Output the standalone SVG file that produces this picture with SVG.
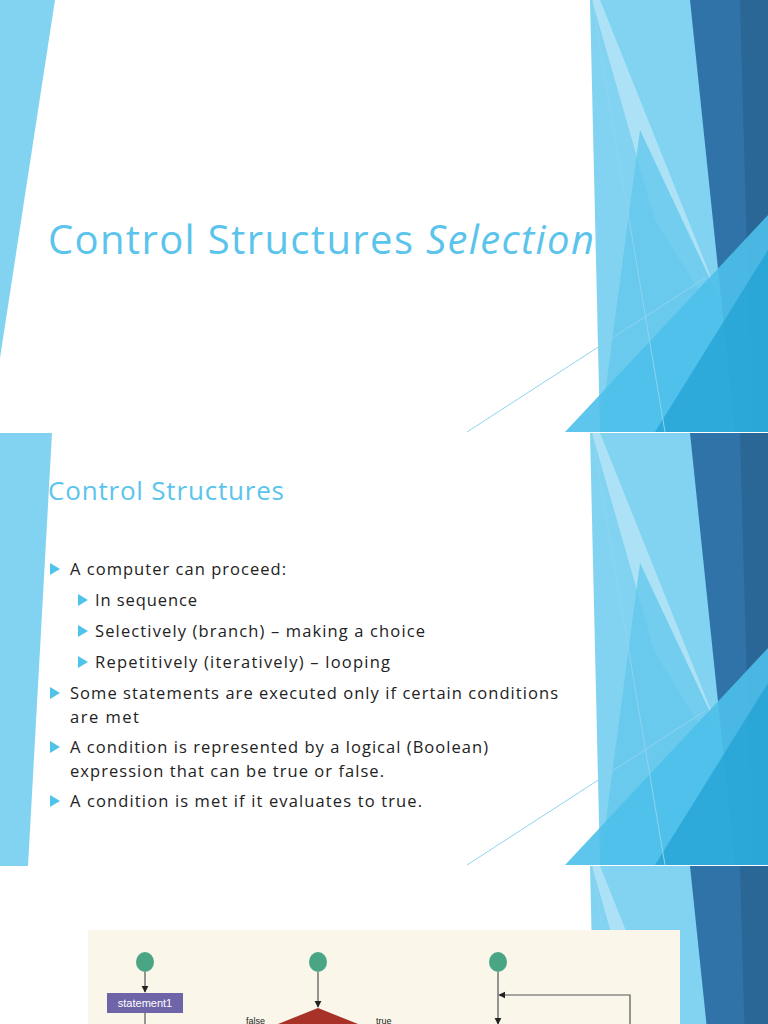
<svg xmlns="http://www.w3.org/2000/svg" xmlns:xlink="http://www.w3.org/1999/xlink" width="768" height="1024" viewBox="0 0 768 1024">
<style>
.t{font-family:"Open Sans",Lato,sans-serif;fill:#5bc4ec}
.b{font-family:"Open Sans",Lato,sans-serif;fill:#222;font-size:16.5px}
.bul{fill:#4fc3ea}
.ln{stroke:#555;stroke-width:1.2;fill:none}
</style>
<defs>
<marker id="ah" viewBox="0 0 10 10" refX="9" refY="5" markerWidth="6" markerHeight="6" orient="auto"><path d="M0,0L10,5L0,10z" fill="#222"/></marker>
<g id="deco">
<polygon points="590,0 692,0 740,432 600,432" fill="#82d3f1"/>
<polygon points="592,0 600,0 720,300 705,300 655,220" fill="#ffffff" opacity="0.35"/>
<polygon points="640,130 720,300 740,432 600,432" fill="#63c8ee" opacity="0.8"/>
<polygon points="690,0 768,0 768,432 735,432" fill="#2f73a8"/>
<polygon points="740,0 768,0 768,432 752,432" fill="#2a6797"/>
<polygon points="565,432 768,215 768,432" fill="#4cc0ea" opacity="0.9"/>
<polygon points="655,432 768,250 768,432" fill="#1f9fd3" opacity="0.7"/>
<line x1="467" y1="432" x2="705" y2="278" stroke="#8fd3ef" stroke-width="1"/>
<line x1="592" y1="0" x2="665" y2="432" stroke="#8fd3ef" stroke-width="1"/>
</g>
</defs>
<rect width="768" height="1024" fill="#ffffff"/>
<g id="slide1">
<polygon points="0,0 55,0 0,358" fill="#82d3f1"/>
<use xlink:href="#deco"/>
<text class="t" x="48" y="254" font-size="40" textLength="546" lengthAdjust="spacing">Control Structures <tspan font-style="italic">Selection</tspan></text>
</g>
<g id="slide2">
<polygon points="0,433 52,433 28,866 0,866" fill="#82d3f1"/>
<use xlink:href="#deco" y="433"/>
<text class="t" x="48" y="500" font-size="26" textLength="236" lengthAdjust="spacing">Control Structures</text>
<g class="bul">
<polygon points="50,563 60,569 50,575"/><polygon points="78,594 88,600 78,606"/><polygon points="78,625 88,631 78,637"/><polygon points="78,656 88,662 78,668"/><polygon points="50,687 60,693 50,699"/><polygon points="50,741 60,747 50,753"/><polygon points="50,795 60,801 50,807"/>
</g>
<text class="b" x="70" y="575" textLength="216">A computer can proceed:</text>
<text class="b" x="95" y="606" textLength="102">In sequence</text>
<text class="b" x="95" y="637" textLength="330">Selectively (branch) – making a choice</text>
<text class="b" x="95" y="668" textLength="295">Repetitively (iteratively) – looping</text>
<text class="b" x="70" y="699" textLength="488">Some statements are executed only if certain conditions</text>
<text class="b" x="70" y="723" textLength="69">are met</text>
<text class="b" x="70" y="753" textLength="418">A condition is represented by a logical (Boolean)</text>
<text class="b" x="70" y="777" textLength="314">expression that can be true or false.</text>
<text class="b" x="70" y="807" textLength="352">A condition is met if it evaluates to true.</text>
</g>
<g id="slide3">
<use xlink:href="#deco" y="866"/>
<rect x="88" y="930" width="592" height="94" fill="#faf6ea"/>
<g id="c1"><ellipse cx="145" cy="962" rx="9" ry="10" fill="#4aa585"/></g>
<g id="c2"><ellipse cx="318" cy="962" rx="9" ry="10" fill="#4aa585"/></g>
<g id="c3"><ellipse cx="498" cy="962" rx="9" ry="10" fill="#4aa585"/></g>
<g id="s1"><rect x="107" y="993" width="76" height="20" fill="#6e64a8"/><text x="145" y="1007" font-family="Liberation Sans Narrow,Liberation Sans,sans-serif" font-size="11" fill="#fff" text-anchor="middle">statement1</text></g>
<g id="d1"><polygon points="318,1008 358,1024 278,1024" fill="#a83228"/></g>
<text x="246" y="1024" font-family="Liberation Sans,sans-serif" font-size="9" fill="#222">false</text>
<text x="376" y="1024" font-family="Liberation Sans,sans-serif" font-size="9" fill="#222">true</text>
<g id="connectors">
<line class="ln" x1="145" y1="972" x2="145" y2="992" marker-end="url(#ah)"/>
<line class="ln" x1="145" y1="1013" x2="145" y2="1024"/>
<line class="ln" x1="318" y1="972" x2="318" y2="1007" marker-end="url(#ah)"/>
<line class="ln" x1="498" y1="972" x2="498" y2="1024" marker-end="url(#ah)" stroke="#111"/>
<polyline class="ln" points="630,1024 630,995 499,995" marker-end="url(#ah)"/>
</g>
</g>
</svg>
